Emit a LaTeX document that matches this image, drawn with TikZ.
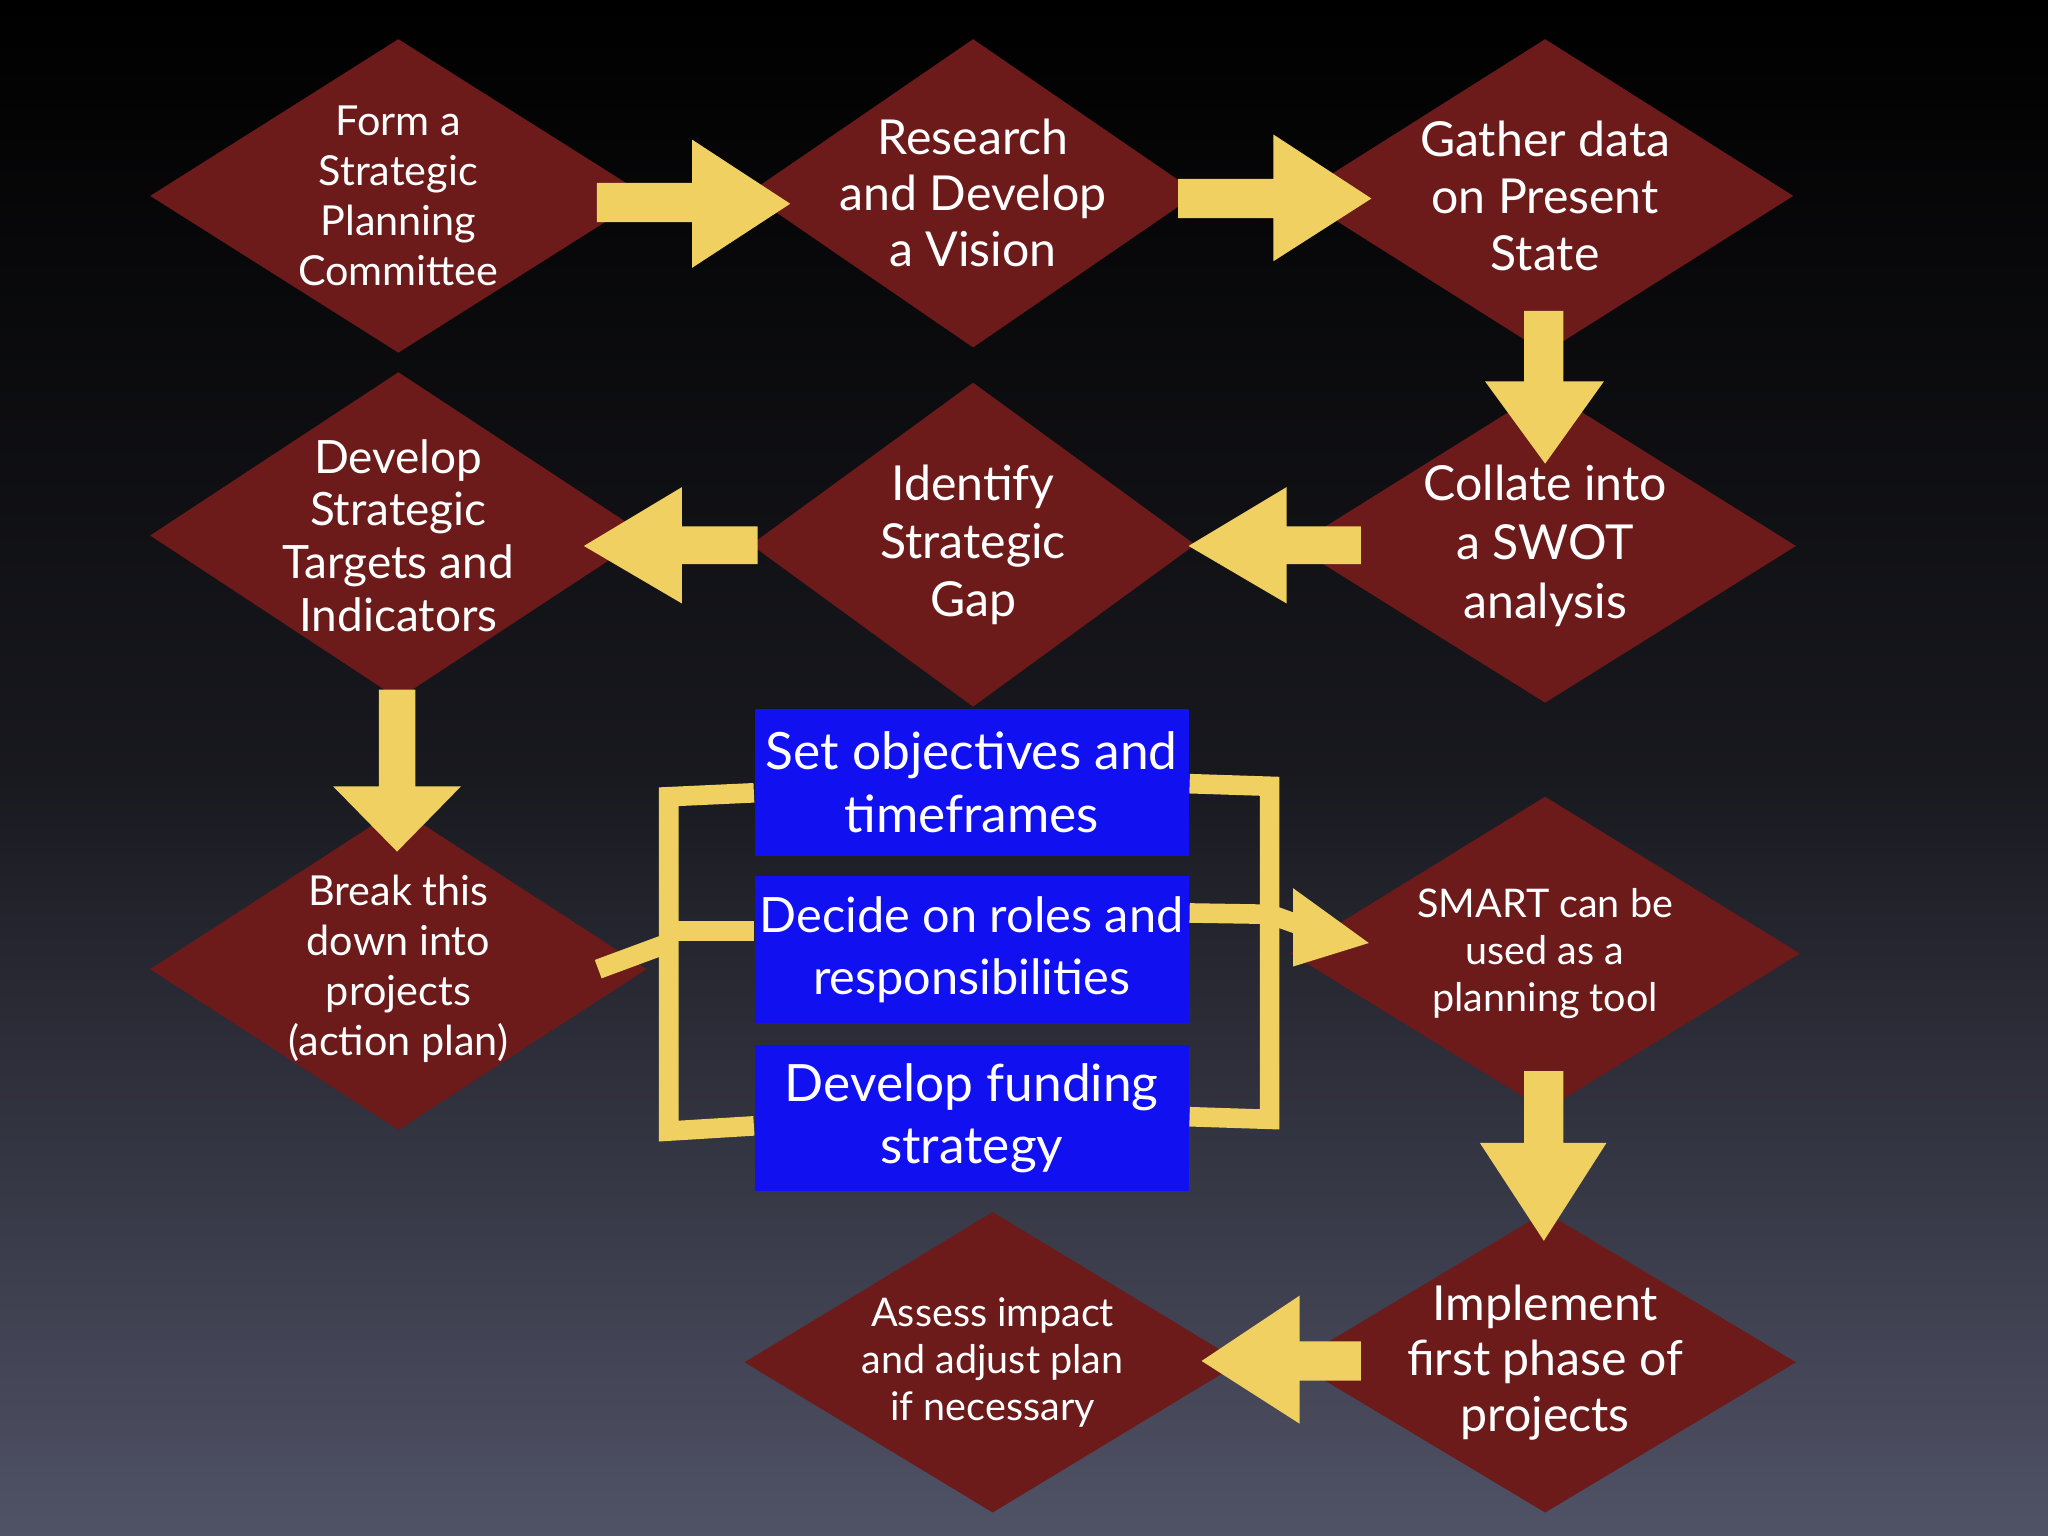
\documentclass[tikz,border=0pt]{standalone}
\usepackage{fontspec}
\setmainfont{Lato}
\definecolor{dred}{RGB}{108,26,26}
\definecolor{yel}{RGB}{240,208,96}
\definecolor{bbox}{RGB}{16,16,240}
\definecolor{bgb}{RGB}{80,82,102}
\newcommand{\mydia}[7]{%
  \fill[dred] (#2-#4,#3) -- (#2,#3-#5) -- (#2+#4,#3) -- (#2,#3+#5) -- cycle;
  \node[lbl,font=#6] (#1) at (#2,#3) {#7};}
\begin{document}
\begin{tikzpicture}[x=0.01cm,y=-0.01cm,
  lbl/.style={inner sep=0pt,text=white,align=center},
  box/.style={rectangle,fill=bbox,inner sep=0pt,text=white,align=center,minimum width=3.32cm,minimum height=1.12cm,font=\fontsize{11.2}{13.6}\selectfont},
  arr/.style={fill=yel},
  br/.style={draw=yel,line width=0.15cm}]
\shade[top color=black,bottom color=bgb,middle color=black!70!bgb] (0,0) rectangle (1568,1176);
\useasboundingbox (0,0) rectangle (1568,1176);
\mydia{a}{305}{150}{190}{120}{\fontsize{9}{10.9}\selectfont}{Form a\\Strategic\\Planning\\Committee}
\mydia{b}{745}{148}{172}{118}{\fontsize{10.5}{12.2}\selectfont}{Research\\and Develop\\a Vision}
\mydia{c}{1183}{150}{190}{120}{\fontsize{10.5}{12.5}\selectfont}{Gather data\\on Present\\State}
\mydia{d}{305}{410}{190}{125}{\fontsize{10}{11.5}\selectfont}{Develop\\Strategic\\Targets and\\Indicators}
\mydia{e}{745}{417}{170}{124}{\fontsize{10.5}{12.6}\selectfont}{Identify\\Strategic\\Gap}
\mydia{f}{1183}{418}{192}{120}{\fontsize{10.5}{12.8}\selectfont}{Collate into\\a SWOT\\analysis}
\mydia{g}{305}{742}{190}{123}{\fontsize{9}{10.9}\selectfont}{Break this\\down into\\projects\\(action plan)}
\mydia{h}{1183}{730}{195}{120}{\fontsize{8.6}{10.3}\selectfont}{SMART can be\\used as a\\planning tool}
\mydia{i}{1183}{1043}{192}{115}{\fontsize{10.5}{12.1}\selectfont}{Implement\\first phase of\\projects}
\mydia{j}{760}{1043}{190}{115}{\fontsize{8.6}{10.2}\selectfont}{Assess impact\\and adjust plan\\if necessary}
\node[box] (p) at (744,599) {Set objectives and\\timeframes};
\node[box,font=\fontsize{10.6}{13.6}\selectfont] (q) at (744,727) {Decide on roles and\\responsibilities};
\node[box] (r) at (744,856) {Develop funding\\strategy};
% block arrows
\fill[arr] (457,140) -- (530,140) -- (530,107) -- (605,156) -- (530,205) -- (530,170) -- (457,170) -- cycle;
\fill[arr] (902,137) -- (975,137) -- (975,103) -- (1050,152) -- (975,200) -- (975,167) -- (902,167) -- cycle;
\fill[arr] (1167,238) -- (1197,238) -- (1197,292) -- (1228,292) -- (1183,355) -- (1137,292) -- (1167,292) -- cycle;
\fill[arr] (1042,403) -- (985,403) -- (985,373) -- (910,418) -- (985,462) -- (985,432) -- (1042,432) -- cycle;
\fill[arr] (580,403) -- (522,403) -- (522,373) -- (447,418) -- (522,462) -- (522,432) -- (580,432) -- cycle;
\fill[arr] (290,528) -- (318,528) -- (318,602) -- (353,602) -- (304,652) -- (255,602) -- (290,602) -- cycle;
\fill[arr] (1167,820) -- (1197,820) -- (1197,875) -- (1230,875) -- (1182,950) -- (1133,875) -- (1167,875) -- cycle;
\fill[arr] (1042,1027) -- (995,1027) -- (995,992) -- (920,1042) -- (995,1090) -- (995,1057) -- (1042,1057) -- cycle;
% brackets
\coordinate (gl) at (458,742);
\coordinate (gm) at (512,722);
\draw[br] (gl) -- (gm);
\draw[br] (p.west|-0,607) -- (512,610) -- (512,866) -- (r.west|-0,862);
\draw[br] (512,713) -- (q.west|-0,713);
\draw[br] (p.east|-0,600) -- (972,602) -- (972,857) -- (r.east|-0,855);
\draw[br] (q.east|-0,699) -- (972,700) -- (1000,710);
\fill[arr] (990,680) -- (1048,722) -- (990,740) -- cycle;
\end{tikzpicture}
\end{document}
